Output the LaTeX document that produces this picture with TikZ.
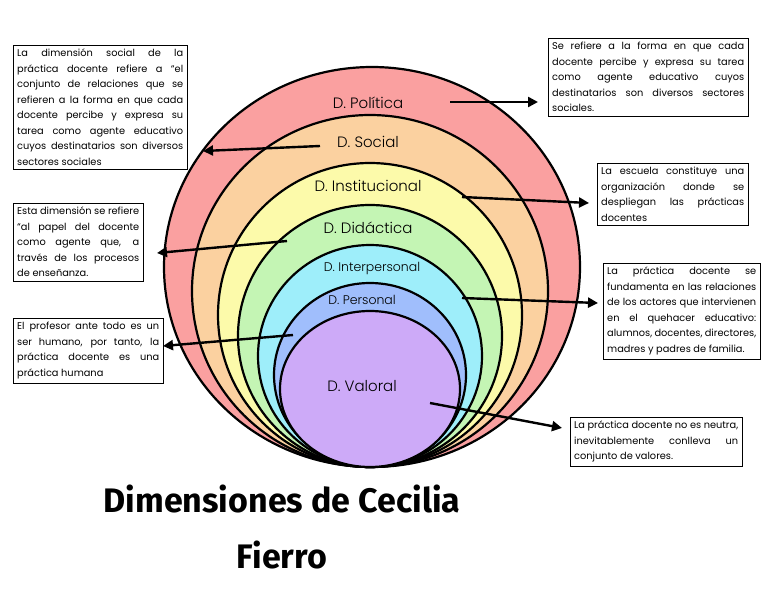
\documentclass[tikz,border=0pt]{standalone}
\usepackage{fontspec}
\setmainfont{Poppins}
\newfontfamily\titlefont{Fira Sans}
\newfontfamily\ringfont{Poppins Light}
\usetikzlibrary{arrows.meta}
\definecolor{cpink}{RGB}{250,160,160}
\definecolor{cpeach}{RGB}{251,209,160}
\definecolor{cyellow}{RGB}{252,250,170}
\definecolor{cgreen}{RGB}{196,245,180}
\definecolor{ccyan}{RGB}{158,238,250}
\definecolor{cblue}{RGB}{160,190,252}
\definecolor{cpurple}{RGB}{205,170,248}
\begin{document}
\begin{tikzpicture}[
        x = 1pt, y = -1pt,
        > = {Triangle[length=10pt,width=10pt]},
        ring/.style = {draw = black, line width = 2.2pt},
        dim/.style = {font = \ringfont\fontsize{15}{17}\selectfont},
        note/.style = {draw = black, fill = white, align = justify, inner sep = 4pt,
            font = \fontsize{9.8}{15.5}\selectfont, anchor = north west,
            execute at begin node = {\hyphenpenalty=10000\relax\tolerance=9999\relax}},
        pointer/.style = {->, line width = 2.4pt}
    ]

    \useasboundingbox (0,0) rectangle (768,594);

    % rings, all touching at the bottom
    \draw[ring, fill = cpink]   (372,267) ellipse (208 and 200);
    \draw[ring, fill = cpeach]  (370,291) ellipse (178 and 176);
    \draw[ring, fill = cyellow] (370,315) ellipse (152 and 152);
    \draw[ring, fill = cgreen]  (370,336) ellipse (132 and 131);
    \draw[ring, fill = ccyan]   (370,356) ellipse (112 and 111);
    \draw[ring, fill = cblue]   (370,375) ellipse (96 and 92);
    \draw[ring, fill = cpurple] (370,389) ellipse (90 and 78);

    % ring labels
    \node (pol) [dim] at (368,103) {D. Política};
    \node (soc) [dim] at (368,142) {D. Social};
    \node (ins) [dim] at (368,186) {D. Institucional};
    \node (did) [dim] at (368,228) {D. Didáctica};
    \node (int) [dim, font = \ringfont\fontsize{12.5}{14}\selectfont] at (372,268) {D. Interpersonal};
    \node (per) [dim, font = \ringfont\fontsize{12.5}{14}\selectfont] at (362,300) {D. Personal};
    \node (val) [dim] at (362,386) {D. Valoral};

    % notes
    \node (npol) [note, text width = 192pt] at (548,38)
        {Se refiere a la forma en que cada docente percibe y expresa su tarea como agente educativo cuyos destinatarios son diversos sectores sociales.};
    \node (nsoc) [note, text width = 166pt] at (13,45)
        {La dimensión social de la práctica docente refiere a “el conjunto de relaciones que se refieren a la forma en que cada docente percibe y expresa su tarea como agente educativo cuyos destinatarios son diversos sectores sociales};
    \node (nins) [note, text width = 143pt] at (597,163)
        {La escuela constituye una organización donde se despliegan las prácticas docentes};
    \node (ndid) [note, text width = 122pt] at (13,203)
        {Esta dimensión se refiere “al papel del docente como agente que, a través de los procesos de enseñanza.};
    \node (nint) [note, text width = 149pt] at (603,263)
        {La práctica docente se fundamenta en las relaciones de los actores que intervienen en el quehacer educativo: alumnos, docentes, directores, madres y padres de familia.};
    \node (nper) [note, text width = 142pt] at (13,318)
        {El profesor ante todo es un ser humano, por tanto, la práctica docente es una práctica humana};
    \node (nval) [note, text width = 164pt] at (570,417)
        {La práctica docente no es neutra, inevitablemente conlleva un conjunto de valores.};

    % pointer ends
    \coordinate (s1) at (450,102); \coordinate (e1) at (538,102);
    \coordinate (s2) at (320,146); \coordinate (e2) at (203,151);
    \coordinate (s3) at (462,197); \coordinate (e3) at (589,203);
    \coordinate (s4) at (287,241); \coordinate (e4) at (157,253);
    \coordinate (s5) at (462,298); \coordinate (e5) at (598,303);
    \coordinate (s6) at (293,335); \coordinate (e6) at (163,346);
    \coordinate (s7) at (430,403); \coordinate (e7) at (562,428);

    % pointers
    \foreach \i in {1,...,7}
        \draw[pointer] (s\i) -- (e\i);

    % title
    \node (title) [font = \titlefont\bfseries\fontsize{34}{56}\selectfont, align = center] at (282,527)
        {Dimensiones de Cecilia\\Fierro};

\end{tikzpicture}
\end{document}
